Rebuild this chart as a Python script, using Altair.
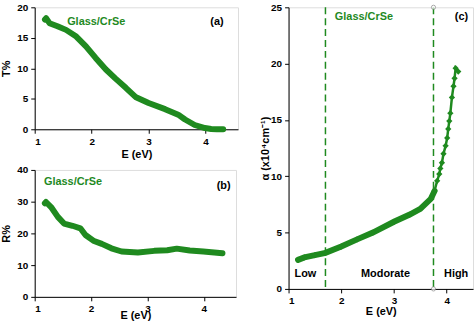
import altair as alt
import pandas as pd

GREEN = "#1f8a1f"
FONT = "Liberation Sans"

# Panel (a): transmittance
E_T = [1.18, 1.2, 1.26, 1.4, 1.55, 1.73, 1.9, 2.07, 2.25, 2.42, 2.6, 2.77, 3.0, 3.29, 3.52, 3.64, 3.81, 3.99, 4.1, 4.2, 4.31]
T = [18.0, 18.2, 17.4, 16.9, 16.3, 15.2, 13.6, 11.7, 9.8, 8.3, 6.8, 5.3, 4.3, 3.3, 2.4, 1.6, 0.7, 0.2, 0.05, 0.0, 0.0]

# Panel (b): reflectance
E_R = [1.18, 1.2, 1.29, 1.41, 1.52, 1.67, 1.81, 1.9, 2.04, 2.19, 2.36, 2.54, 2.83, 3.12, 3.35, 3.52, 3.75, 3.99, 4.33]
R = [29.5, 29.9, 28.3, 25.2, 23.1, 22.4, 21.6, 19.5, 17.7, 16.7, 15.3, 14.3, 14.0, 14.5, 14.7, 15.2, 14.6, 14.3, 13.75]

# Panel (c): absorption coefficient
E_A = [1.18, 1.3, 1.5, 1.7, 2.0, 2.3, 2.6, 3.0, 3.3, 3.5, 3.7, 3.77, 3.82, 3.86, 3.88, 3.91, 3.94, 3.98, 4.01, 4.03, 4.05, 4.07, 4.1, 4.13, 4.15, 4.17, 4.22]
A = [2.58, 2.8, 3.0, 3.2, 3.76, 4.4, 5.0, 5.96, 6.6, 7.1, 8.0, 8.7, 9.6, 10.2, 10.7, 11.2, 12.0, 12.7, 13.4, 14.2, 14.9, 15.6, 17.0, 18.0, 18.7, 19.6, 19.3]

T_ticks = [0, 5, 10, 15, 20]
R_ticks = [0, 10, 20, 30, 40]
A_ticks = [0, 5, 10, 15, 20, 25]
E_ticks = [1, 2, 3, 4]

vlines = [1.7, 3.75]
region_labels = ["Low", "Modorate", "High"]
region_x = [1.32, 2.84, 4.18]

dfT = pd.DataFrame({"E": E_T, "v": T})
dfR = pd.DataFrame({"E": E_R, "v": R})
dfA = pd.DataFrame({"E": E_A, "v": A})

axis_common = dict(labelFont=FONT, labelFontWeight="bold", labelFontSize=10, labelColor="black",
                   titleFont=FONT, titleFontWeight="bold", titleFontSize=11, titleColor="black",
                   domainColor="black", tickColor="black", tickSize=4, grid=False, labelPadding=3,
                   labelOverlap=False, format="d")


def small_panel(df, ymax, yticks, ytitle, tag, glass_x, glass_y, tag_x, tag_y, w, h, xtp):
    xs = alt.Scale(domain=[1, 4.57], nice=False, zero=False)
    ys = alt.Scale(domain=[0, ymax], nice=False, zero=False)
    # tick sets come from the scale: 4 intervals over each domain gives the tick lists above
    x = alt.X("E:Q", scale=xs,
              axis=alt.Axis(tickCount=len(E_ticks), title="E (eV)", titlePadding=xtp, **axis_common))
    y = alt.Y("v:Q", scale=ys,
              axis=alt.Axis(tickCount=len(yticks) - 1, title=ytitle, titlePadding=5, **axis_common))
    line = alt.Chart(df).mark_line(color=GREEN, strokeWidth=6, strokeCap="round", strokeJoin="round").encode(x=x, y=y)
    tdf = pd.DataFrame({"E": [glass_x, tag_x], "v": [glass_y, tag_y], "t": ["Glass/CrSe", tag],
                        "c": [GREEN, "black"]})
    txt = alt.Chart(tdf).mark_text(font=FONT, fontWeight="bold", fontSize=11).encode(
        x=x, y=y, text="t:N", color=alt.Color("c:N", scale=None))
    return alt.layer(line, txt).properties(width=w, height=h)


pa = small_panel(dfT, 20, T_ticks, "T%", "(a)", 2.08, 17.6, 4.2, 17.6, 205, 123, 2)
pb = small_panel(dfR, 40, R_ticks, "R%", "(b)", 1.68, 36.2, 4.35, 35.0, 203, 128, -4)

xc = alt.X("E:Q", scale=alt.Scale(domain=[1, 4.5], nice=False, zero=False),
           axis=alt.Axis(values=E_ticks, tickCount=len(E_ticks), title="E (eV)", titlePadding=0, **axis_common))
yc = alt.Y("v:Q", scale=alt.Scale(domain=[0, 25], nice=False),
           axis=alt.Axis(values=A_ticks, tickCount=len(A_ticks), title="α (x10⁴cm⁻¹)", titlePadding=0, **axis_common))

lineC = alt.Chart(dfA).mark_line(color=GREEN, strokeWidth=2.5, point=alt.OverlayMarkDef(shape="diamond", size=40, color=GREEN, filled=True)).encode(x=xc, y=yc)
thick = alt.Chart(dfA[dfA["E"] <= 3.77]).mark_line(color=GREEN, strokeWidth=6, strokeCap="round").encode(x=xc, y=yc)
vdf = pd.DataFrame({"E": vlines})
rules = alt.Chart(vdf).mark_rule(color=GREEN, strokeWidth=1.5, strokeDash=[7, 4]).encode(x=xc)
cdf = pd.DataFrame({"E": [3.75, 3.75], "v": [0, 25]})
circles = alt.Chart(cdf).mark_point(shape="circle", size=18, color="#888", fill="white", filled=False, strokeWidth=1).encode(x=xc, y=yc)
rdf = pd.DataFrame({"E": region_x, "v": [1.3] * 3, "t": region_labels})
rtxt = alt.Chart(rdf).mark_text(font=FONT, fontWeight="bold", fontSize=11, color="black").encode(x=xc, y=yc, text="t:N")
gdf = pd.DataFrame({"E": [2.43, 4.28], "v": [24.1, 24.1], "t": ["Glass/CrSe", "(c)"], "c": [GREEN, "black"]})
gtxt = alt.Chart(gdf).mark_text(font=FONT, fontWeight="bold", fontSize=11).encode(
    x=xc, y=yc, text="t:N", color=alt.Color("c:N", scale=None))
pc = alt.layer(rules, thick, lineC, circles, rtxt, gtxt).properties(width=186, height=284)

left = alt.vconcat(pa, pb, spacing=4)
chart = alt.hconcat(left, pc, spacing=20).properties(
    padding={"left": 0, "top": 0, "right": 0, "bottom": 0}
).configure_view(stroke="#444", strokeWidth=1).configure_axis(labelOverlap=False).configure(background="white")

chart.save("out.html", embed_options={"renderer": "svg", "actions": False})
